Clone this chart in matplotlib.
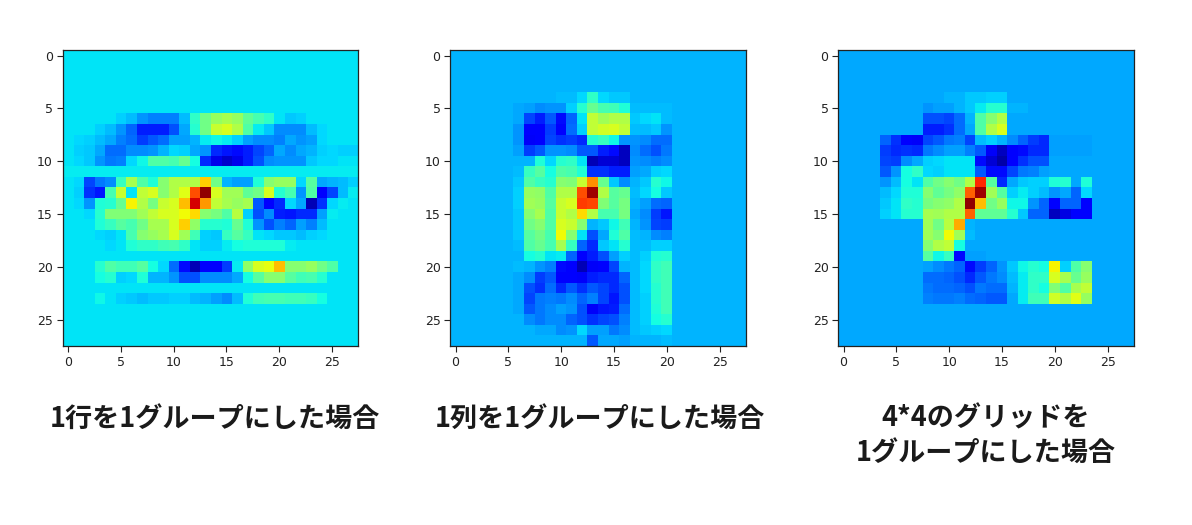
import numpy as np
import matplotlib
matplotlib.use("Agg")
import matplotlib.pyplot as plt

plt.rcParams['font.family'] = ['Noto Sans CJK JP', 'DejaVu Sans']

titles = ["1行を1グループにした場合", "1列を1グループにした場合", "4*4のグリッドを\n1グループにした場合"]
ticks = [0, 5, 10, 15, 20, 25]
size = 28

# Colour-scale levels (0-100); each row: {row index: (first column, values)}
background_a = 33
rows_a = {
 6: (5, [31,29,25,23,23,23,29,39,47,52,54,52,45,42,39,33,30,31]),
 7: (3, [31,29,25,20,13,13,13,18,27,38,47,58,60,55,43,34,30,24,24,24,29,32]),
 8: (1, [32,31,29,27,23,21,16,19,21,26,26,28,34,35,34,31,26,24,24,23,27,25,26,32]),
 9: (1, [31,30,27,21,21,24,24,25,28,32,31,27,25,14,12,11,13,17,20,27,24,27,28,31,32,31,31]),
 10: (1, [32,30,25,22,23,32,35,43,43,42,46,36,14,7,4,7,13,18,24,25,25,25,30,32,32,33]),
 11: (0, [34]*28),
 12: (1, [32,17,22,24,40,54,43,37,50,55,55,55,68,47,28,26,26,37,50,52,52,32,44,27,28,29,31]),
 13: (1, [31,15,12,42,58,33,57,60,50,55,61,82,98,60,53,53,45,47,60,38,42,25,43,10,17,29,34]),
 14: (1, [32,25,37,38,46,64,55,48,58,60,70,92,74,57,54,52,54,19,9,14,32,27,2,15,32,34]),
 15: (2, [32,38,49,49,49,53,57,60,60,63,67,50,48,43,56,31,18,24,13,12,14,14,26,34]),
 16: (3, [37,40,44,42,47,54,54,60,68,51,38,38,37,46,37,25,18,23,20,26,23,29,33]),
 17: (3, [32,31,33,42,50,52,54,60,53,41,31,30,40,44,40,33,32,30,30,29,31,32,33]),
 18: (4, [32,33,37,39,39,41,42,39,33,31,31,34,36,37,37,37,37,34]),
 20: (3, [38,43,41,41,44,36,32,21,11,2,10,9,16,34,51,60,62,70,50,50,52,47,43]),
 21: (3, [36,38,31,32,37,28,28,25,18,18,24,24,24,27,36,44,50,50,44,41,42,38,33]),
 23: (3, [35,33,31,30,29,30,30,31,31,29,28,26,24,29,37,41,42,42,41,41,40,36,33]),
}

background_b = 28
rows_b = {
 4: (10, [29,29,32,39,32,30,30]),
 5: (6, [27,26,24,25,25,31,38,46,42,41,37,29,29,29,29]),
 6: (6, [27,17,13,19,11,20,33,57,53,55,55,30,32,33,29]),
 7: (6, [25,10,10,16,10,21,31,57,59,60,57,29,29,30,25]),
 8: (6, [25,8,9,17,15,16,14,38,40,35,25,25,24,21,21]),
 9: (6, [26,16,19,25,25,24,19,19,13,11,3,24,21,18,22]),
 10: (6, [28,28,37,32,38,39,33,2,5,5,3,25,24,23,24]),
 11: (6, [29,40,44,36,43,42,37,15,15,13,13,26,27,31,32]),
 12: (6, [30,43,40,38,50,49,58,75,46,30,24,28,30,38,35]),
 13: (6, [31,52,51,43,55,55,82,97,55,44,46,29,32,36,30]),
 14: (6, [31,53,52,44,58,60,84,83,49,44,48,28,26,21,20]),
 15: (6, [30,50,54,43,58,55,67,55,42,42,48,27,24,16,12]),
 16: (6, [30,47,50,43,60,58,50,28,30,35,41,28,25,17,16]),
 17: (6, [30,44,47,42,63,50,33,18,27,37,43,29,28,24,23]),
 18: (6, [29,43,46,42,54,40,20,14,30,33,38,29,29,31,31]),
 19: (6, [28,36,38,33,34,20,10,13,18,26,31,29,31,37,38]),
 20: (6, [29,28,25,23,11,10,2,8,10,17,28,29,32,39,41]),
 21: (6, [27,24,16,19,10,9,8,13,14,14,20,29,32,39,41]),
 22: (6, [27,18,15,21,14,19,15,19,17,14,18,29,32,38,41]),
 23: (6, [27,17,22,23,22,24,20,23,17,12,18,29,31,38,41]),
 24: (6, [27,19,22,24,26,25,18,8,12,13,21,29,31,37,41]),
 25: (6, [28,24,22,24,24,20,18,15,17,18,23,29,31,36,38]),
 26: (7, [28,27,27,24,25,32,26,26,22,24,29,30,31,32]),
 27: (8, [28,28,28,28,28,19,27,27,26,28,28,28,29]),
}

background_c = 27
rows_c = {
 4: (10, [28,28,30,30,31,31]),
 5: (8, [25,26,26,28,30,34,38,38,28,28]),
 6: (8, [18,18,17,21,28,43,50,55]),
 7: (8, [13,13,15,21,27,43,55,60]),
 8: (4, [20,15,10,8,17,19,22,23,17,29,31,28,24,20,16,14,26,26,26,26]),
 9: (4, [16,14,15,14,22,24,26,26,23,19,8,3,10,11,14,14,26,26,26,26]),
 10: (4, [17,16,24,27,31,32,33,33,33,11,5,1,10,15,18,18]),
 11: (4, [19,25,36,39,32,31,33,33,33,19,11,11,17,22,23,26]),
 12: (4, [25,29,36,33,43,47,50,47,55,86,44,14,27,30,31,31,37,38,27,37]),
 13: (4, [29,32,37,37,50,45,48,51,80,97,53,44,31,34,31,29,25,27,20,32]),
 14: (4, [30,33,39,38,48,50,51,55,98,70,47,52,35,35,25,20,10,20,20,10]),
 15: (4, [31,33,38,38,54,53,55,55,80,45,45,45,38,30,20,20,3,6,10,10]),
 16: (8, [53,47,56,72,28]),
 17: (8, [53,50,63,53,29]),
 18: (8, [50,55,57,36]),
 19: (8, [44,35,40,11,26,26]),
 20: (8, [26,24,22,20,11,16,20,25,30,35,38,36,64,31,43,50]),
 21: (8, [21,21,20,18,14,19,22,24,29,34,39,39,60,54,46,52]),
 22: (8, [22,21,21,20,18,22,21,21,28,34,39,36,49,43,54,57]),
 23: (8, [23,22,22,23,21,20,19,19,27,34,41,41,59,55,61,52]),
}

panels = [(background_a, rows_a), (background_b, rows_b), (background_c, rows_c)]
W, H = 1192, 525
lefts = [62.7, 450.3, 838.3]
tops = [50.3, 50.3, 50.3]
side = 295.7
title_x = [215, 600, 986]
title_y = [419, 419, 436]

fig = plt.figure(figsize=(W / 100, H / 100), dpi=100, facecolor='white')
for i, (bg, rows) in enumerate(panels):
    grid = np.full((size, size), bg, dtype=float)
    for r, (start, vals) in rows.items():
        grid[r, start:start + len(vals)] = vals
    ax = fig.add_axes([lefts[i] / W, 1 - (tops[i] + side) / H, side / W, side / H])
    ax.imshow(grid, cmap='jet', vmin=-3, vmax=100, interpolation='nearest', aspect='auto')
    ax.set_xticks(ticks)
    ax.set_yticks(ticks)
    ax.tick_params(labelsize=9, length=4, width=0.8, colors='#222222', pad=3)
    for lab in ax.get_xticklabels() + ax.get_yticklabels():
        lab.set_family('DejaVu Sans')
    for s in ax.spines.values():
        s.set_linewidth(0.9)
        s.set_color('#222222')
    fig.text(title_x[i] / W, 1 - title_y[i] / H, titles[i],
             ha='center', va='center', fontsize=19.5, fontweight='bold',
             color='#1a1a1a', linespacing=1.28)
fig.savefig('out.png', dpi=100)
